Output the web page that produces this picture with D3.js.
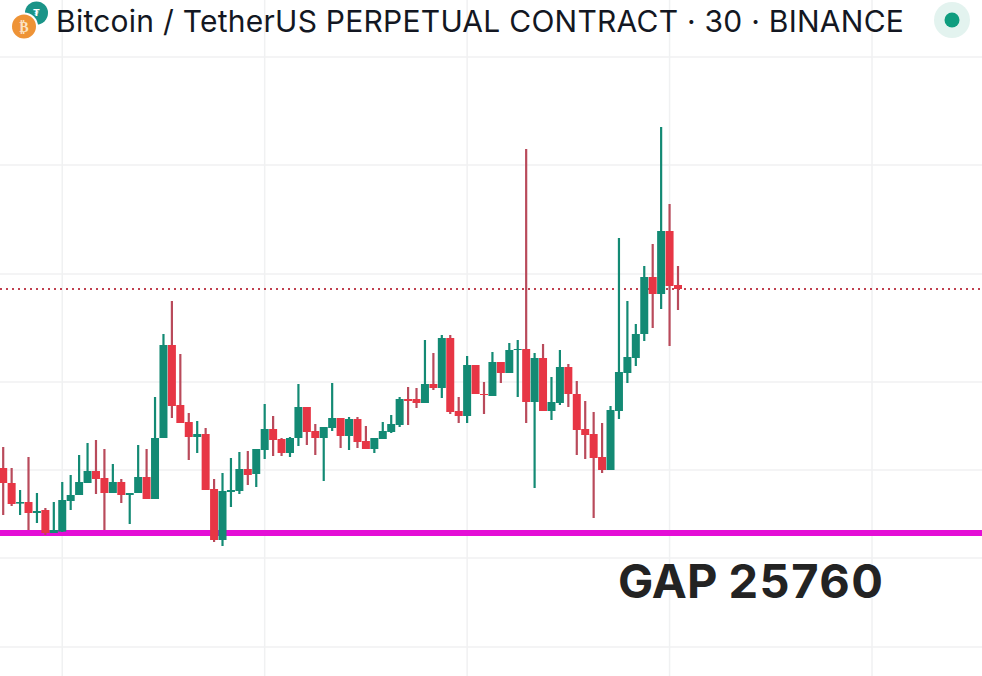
<!DOCTYPE html>
<html>
<head>
    <meta charset="utf-8">
    <title>GAP 25760</title>
    <script src="https://d3js.org/d3.v7.min.js"></script>
    <style>
        html, body {
            margin: 0;
            padding: 0;
            background: #fff;
        }
        svg {
            display: block;
        }
        .grid line {
            stroke: #f0f1f2;
            stroke-width: 1.5;
        }
        .grid .domain {
            display: none;
        }
    </style>
</head>
<body>
    <div id="chart"></div>
    <script type="text/javascript">
        var titleText = "Bitcoin / TetherUS PERPETUAL CONTRACT · 30 · BINANCE";
        var gapLevel = 25760;
        var lastPrice = 26980;
        var gapWord = "GAP";
        var gapNumber = "25760";

        var gridPrices = [28140, 27600, 27055, 26515, 26075, 25635, 25190];
        var gridBars = [7, 31, 55, 79, 103];

        var opens = [26085, 26010, 25907, 25915, 25860, 25875, 25760, 25767, 25920, 25950, 26010, 26070, 26035, 25960, 26015, 25950, 25960, 26040, 25930, 26235, 26700, 26400, 26315, 26240, 26255, 25980, 25725, 25965, 25970, 26080, 26055, 26175, 26280, 26230, 26160, 26235, 26390, 26270, 26235, 26285, 26335, 26245, 26330, 26220, 26180, 26230, 26265, 26300, 26430, 26430, 26410, 26505, 26485, 26735, 26370, 26345, 26600, 26455, 26445, 26615, 26560, 26675, 26680, 26415, 26635, 26370, 26410, 26590, 26455, 26280, 26255, 26140, 26075, 26370, 26560, 26635, 26755, 27040, 26955, 27270, 27000];
        var highs = [26190, 26085, 25975, 26140, 25960, 25885, 25915, 26015, 26050, 26150, 26210, 26225, 26180, 26105, 26030, 25960, 26200, 26180, 26440, 26755, 26920, 26655, 26360, 26320, 26285, 26030, 26060, 26135, 26165, 26170, 26180, 26405, 26345, 26235, 26240, 26505, 26390, 26305, 26290, 26510, 26335, 26340, 26340, 26295, 26235, 26315, 26350, 26440, 26490, 26485, 26725, 26660, 26750, 26750, 26440, 26645, 26600, 26515, 26665, 26615, 26710, 26725, 27680, 26660, 26705, 26540, 26675, 26605, 26520, 26420, 26365, 26310, 26395, 27235, 26920, 26805, 27095, 27205, 27790, 27405, 27095];
        var lows = [25850, 25895, 25850, 25775, 25810, 25750, 25760, 25765, 25875, 25950, 26010, 25955, 25775, 25960, 25910, 25805, 25960, 25930, 25930, 26235, 26335, 26310, 26125, 26160, 25975, 25715, 25695, 25890, 25955, 26000, 25990, 26130, 26145, 26145, 26140, 26195, 26200, 26150, 26020, 26270, 26185, 26175, 26185, 26180, 26160, 26230, 26260, 26290, 26300, 26385, 26410, 26475, 26435, 26355, 26310, 26310, 26455, 26355, 26445, 26510, 26560, 26440, 26310, 25985, 26370, 26325, 26400, 26390, 26150, 26130, 25835, 26060, 26075, 26330, 26510, 26595, 26720, 26785, 26880, 26695, 26875];
        var closes = [26010, 25905, 25915, 25860, 25870, 25760, 25775, 25925, 25950, 26015, 26070, 26030, 25960, 26015, 25950, 25960, 26040, 25930, 26235, 26700, 26395, 26310, 26240, 26255, 25975, 25725, 25970, 25975, 26080, 26050, 26180, 26280, 26225, 26160, 26235, 26390, 26265, 26235, 26290, 26335, 26245, 26330, 26215, 26180, 26235, 26270, 26305, 26430, 26420, 26410, 26505, 26485, 26735, 26365, 26345, 26600, 26455, 26450, 26615, 26560, 26675, 26680, 26415, 26635, 26370, 26415, 26590, 26455, 26275, 26250, 26135, 26075, 26375, 26565, 26640, 26755, 27040, 26955, 27270, 26995, 26980];

        var width = 982,
            height = 676;

        var green = "#138a74",
            red = "#e73645",
            redWick = "#b94a5b";

        var x = d3.scaleLinear().domain([0, 80]).range([3.2, 678]);
        var y = d3.scaleLinear().domain([28425, 25045]).range([0, height]);

        var svg = d3.select("#chart")
            .append("svg")
            .attr("width", width)
            .attr("height", height);

        // grid
        svg.append("g")
            .attr("class", "grid")
            .call(d3.axisRight(y).offset(0).tickValues(gridPrices).tickSize(width).tickFormat(""));

        svg.append("g")
            .attr("class", "grid")
            .call(d3.axisBottom(x).offset(0).tickValues(gridBars).tickSize(height).tickFormat(""));

        // gap level sits under the candles
        svg.append("line")
            .attr("x1", 0)
            .attr("x2", width)
            .attr("y1", y(gapLevel))
            .attr("y2", y(gapLevel))
            .attr("stroke", "#e40ed6")
            .attr("stroke-width", 6);

        svg.append("line")
            .attr("x1", 0)
            .attr("x2", width)
            .attr("y1", y(lastPrice))
            .attr("y2", y(lastPrice))
            .attr("stroke", "#c0404f")
            .attr("stroke-width", 1.8)
            .attr("stroke-dasharray", "2 4");

        var candle = svg.append("g")
            .selectAll("g")
            .data(opens)
            .join("g");

        candle.append("line")
            .attr("x1", function (d, i) { return x(i); })
            .attr("x2", function (d, i) { return x(i); })
            .attr("y1", function (d, i) { return y(highs[i]); })
            .attr("y2", function (d, i) { return y(lows[i]); })
            .attr("stroke", function (d, i) { return closes[i] >= d ? green : redWick; })
            .attr("stroke-width", 2.2);

        candle.append("rect")
            .attr("x", function (d, i) { return x(i) - 4; })
            .attr("width", 8)
            .attr("y", function (d, i) { return y(Math.max(d, closes[i])); })
            .attr("height", function (d, i) { return Math.abs(y(d) - y(closes[i])); })
            .attr("fill", function (d, i) { return closes[i] >= d ? green : red; });

        // symbol icons
        svg.append("circle").attr("cx", 36.5).attr("cy", 13).attr("r", 11.5).attr("fill", "#1a9488");
        svg.append("text")
            .attr("x", 36.5)
            .attr("y", 15.5)
            .attr("text-anchor", "middle")
            .attr("font-family", "DejaVu Sans")
            .attr("font-weight", "bold")
            .attr("font-size", 9)
            .attr("fill", "#fff")
            .text("₮");
        svg.append("circle").attr("cx", 24).attr("cy", 26.5).attr("r", 14).attr("fill", "#fff");
        svg.append("circle").attr("cx", 24).attr("cy", 26.5).attr("r", 12).attr("fill", "#ee9336");
        svg.append("text")
            .attr("x", 24)
            .attr("y", 31.5)
            .attr("text-anchor", "middle")
            .attr("font-family", "DejaVu Sans")
            .attr("font-weight", "bold")
            .attr("font-size", 14)
            .attr("fill", "#fbe3c4")
            .text("₿");

        svg.append("text")
            .attr("x", 56)
            .attr("y", 32)
            .attr("font-family", "Inter")
            .attr("font-size", 30)
            .attr("letter-spacing", 0.25)
            .attr("fill", "#131722")
            .text(titleText);

        // live status dot
        svg.append("circle").attr("cx", 952).attr("cy", 20).attr("r", 18).attr("fill", "#e3f3ef");
        svg.append("circle").attr("cx", 952).attr("cy", 20).attr("r", 7.5).attr("fill", "#0f9d7f");

        var gap = svg.append("text")
            .attr("x", 618)
            .attr("y", 598)
            .attr("font-family", "Inter")
            .attr("font-weight", "bold")
            .attr("font-size", 47)
            .attr("fill", "#232323");
        gap.append("tspan").text(gapWord + " ");
        gap.append("tspan").attr("letter-spacing", 1.5).text(gapNumber);
    </script>
</body>
</html>
